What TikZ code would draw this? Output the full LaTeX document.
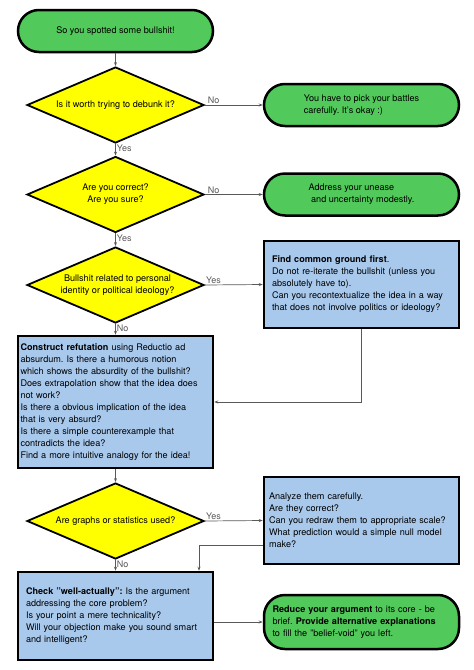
\documentclass[tikz,border=0pt]{standalone}
\usepackage{fontspec}
\setmainfont{TeX Gyre Heros}
\usetikzlibrary{shapes.geometric,arrows.meta}
\definecolor{termgreen}{HTML}{52C95B}
\definecolor{stepblue}{HTML}{A9C9EC}
\definecolor{testyellow}{HTML}{FFFF00}
\frenchspacing
\hyphenpenalty=10000
\begin{document}
\begin{tikzpicture}
    [ x=1pt, y=-1pt,
      every node/.style = {font=\fontsize{9.1}{12}\selectfont},
      term-node/.style = {
        shape=rectangle, rounded corners=21pt, draw, line width=2.5pt,
        fill=termgreen, minimum width=195pt, minimum height=42pt,
        align=left, inner sep=0pt
      },
      test-node/.style = {
        shape=diamond, draw, line width=1.8pt, fill=testyellow,
        minimum width=177pt, minimum height=76pt, inner sep=0pt
      },
      step-node/.style = {
        shape=rectangle, draw, line width=2.5pt, fill=stepblue,
        minimum width=195pt, text width=184pt, inner xsep=5.5pt,
        align=left
      },
      conn/.style = {draw, line width=0.7pt, gray!70!black,
        -{Stealth[length=4pt,width=3pt]}},
      txt/.style = {font=\fontsize{9}{11}\selectfont, inner sep=1pt}]
      \useasboundingbox (0,0) rectangle (474,670);
      % left column
      \node [term-node, align=center] (start) at (115.5,31) {So you spotted some bullshit!};
      \node [test-node] (worth) at (115.5,105) {};
      \node [align=center] at (worth) {Is it worth trying to debunk it?};
      \node [test-node] (correct) at (115.5,194.5) {};
      \node [align=center] at (correct) {Are you correct?\\Are you sure?};
      \node [test-node] (ideology) at (115.5,285) {};
      \node [align=center] at ([xshift=2pt]ideology) {Bullshit related to personal\\identity or political ideology?};
      \node [step-node, minimum height=132pt, text width=190pt, inner xsep=2.5pt] (refute) at (115.5,402) {%
        \textbf{Construct refutation} using Reductio ad\\
        absurdum. Is there a humorous notion\\
        which shows the absurdity of the bullshit?\\
        Does extrapolation show that the idea does\\
        not work?\\
        Is there a obvious implication of the idea\\
        that is very absurd?\\
        Is there a simple counterexample that\\
        contradicts the idea?\\
        Find a more intuitive analogy for the idea!};
      \node [test-node] (stats) at (115.5,521) {};
      \node [align=center] at (stats) {Are graphs or statistics used?};
      \node [step-node, minimum height=88pt, inner xsep=8pt, text width=179pt] (check) at (115.5,616) {%
        \textbf{Check "well-actually":} Is the argument\\
        addressing the core problem?\\
        Is your point a mere technicality?\\
        Will your objection make you sound smart\\
        and intelligent?};
      % right column
      \node [term-node] (battles) at (361.5,105) {You have to pick your battles\\carefully. It's okay :)};
      \node [term-node] (unease) at (361.5,194.5) {Address your unease\\\ and uncertainty modestly.};
      \node [step-node, minimum height=87pt, inner xsep=8pt, text width=179pt] (common) at (361.5,284.5) {%
        \textbf{Find common ground first}.\\
        Do not re-iterate the bullshit (unless you\\
        absolutely have to).\\
        Can you recontextualize the idea in a way\\
        that does not involve politics or ideology?};
      \node [step-node, minimum height=87pt, text width=185pt, inner xsep=5pt] (analyze) at (361.5,520.5) {%
        Analyze them carefully.\\
        Are they correct?\\
        Can you redraw them to appropriate scale?\\
        What prediction would a simple null model\\
        make?};
      \node [term-node, minimum height=54pt, text width=178pt] (reduce) at (361.5,622) {%
        \textbf{Reduce your argument} to its core - be\\
        brief. \textbf{Provide alternative explanations}\\
        to fill the "belief-void" you left.};
      % connectors
      \draw [conn] (start) -- (worth);
      \draw [conn] (worth) -- node [txt, pos=0.4, anchor=west] {Yes} (correct);
      \draw [conn] (correct) -- node [txt, pos=0.4, anchor=west] {Yes} (ideology);
      \draw [conn] (ideology) -- node [txt, pos=0.4, anchor=west] {No} (refute);
      \draw [conn] (refute) -- (stats);
      \draw [conn] (stats) -- node [txt, pos=0.4, anchor=west] {No} (check);
      \draw [conn] (worth.east) -- node [txt, pos=0.15, anchor=south] {No} (battles.west);
      \draw [conn] (correct.east) -- node [txt, pos=0.15, anchor=south] {No} (unease.west);
      \draw [conn] (ideology.east) -- node [txt, pos=0.15, anchor=south] {Yes} (common.west);
      \draw [conn] (stats.east) -- node [txt, pos=0.15, anchor=south] {Yes} (analyze.west);
      \draw [conn] (common.south) |- (refute.east);
      \draw [conn] ([yshift=-24.5pt]analyze.west) -| ([xshift=83.5pt]check.north);
      \draw [conn] (check.east |- reduce.west) -- (reduce.west);
  \end{tikzpicture}
\end{document}
